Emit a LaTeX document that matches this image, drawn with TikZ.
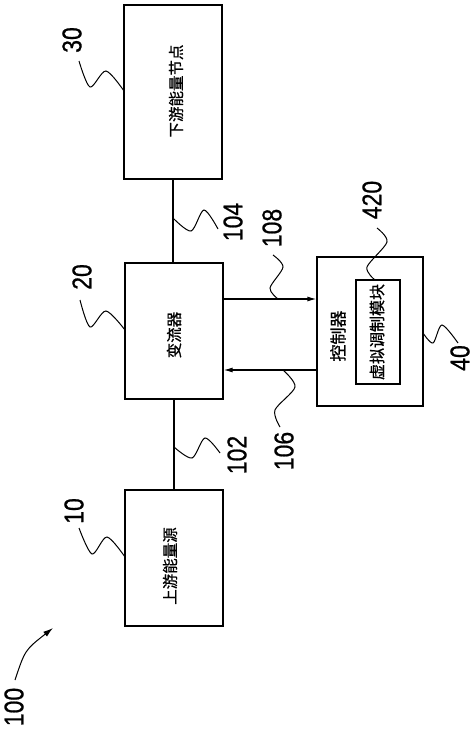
\documentclass[tikz,border=0pt]{standalone}
\usepackage{fontspec}
\newfontfamily\cjk[FakeBold=0.8]{Noto Sans CJK SC}
\newfontfamily\dig[FakeBold=0.8]{Liberation Sans}
\usetikzlibrary{arrows.meta}
\tikzset{
  box/.style={draw, line width=1.2pt, inner sep=0pt},
  wire/.style={line width=1.2pt},
  arr/.style={line width=1.2pt, -{Latex[length=9pt,width=5pt]}},
  lead/.style={line width=1pt},
  num/.style={font=\dig\fontsize{23}{23}\selectfont, inner sep=0pt},
  cn/.style={font=\cjk\fontsize{15.5}{15.5}\selectfont, inner sep=0pt}
}
\newcommand{\rt}[1]{\rotatebox{90}{#1}}
\newcommand{\rn}[1]{\rotatebox{90}{\scalebox{1}[1.18]{#1}}}
\begin{document}
\begin{tikzpicture}[x=1pt,y=-1pt]
\useasboundingbox (0,0) rectangle (474,731);
% boxes
\node[box, minimum width=98pt, minimum height=174pt] (n30) at (173,92) {};
\node[box, minimum width=98pt, minimum height=136pt] (n20) at (174,331) {};
\node[box, minimum width=98pt, minimum height=136pt] (n10) at (174,558) {};
\node[box, minimum width=106pt, minimum height=149pt] (n40) at (370,331.5) {};
\node[box, minimum width=44pt, minimum height=104pt] (n420) at (378,332) {};
% box texts
\node[cn] (t30) at (176,91) {\rt{下游能量节点}};
\node[cn] (t20) at (174,335) {\rt{变流器}};
\node[cn] (t10) at (170,566) {\rt{上游能量源}};
\node[cn, font=\cjk\fontsize{17}{17}\selectfont] (t40) at (338,336) {\rt{控制器}};
\node[cn, font=\cjk\fontsize{16}{16}\selectfont] (t420) at (377,332) {\rt{虚拟调制模块}};
% connections
\draw[wire] (n30.south) -- (n30.south |- n20.north);
\draw[wire] (n20.south) -- (n20.south |- n10.north);
\draw[arr] (n20.east |- 0,299) -- (n40.west |- 0,299);
\draw[arr] (n40.west |- 0,370) -- (n20.east |- 0,370);
% labels
\node[num] (l30) at (72,40) {\rn{30}};
\node[num] (l20) at (82,277) {\rn{20}};
\node[num] (l10) at (74,511) {\rn{10}};
\node[num] (l104) at (233,222) {\rn{104}};
\node[num] (l102) at (237,455) {\rn{102}};
\node[num] (l108) at (272,228) {\rn{108}};
\node[num] (l106) at (284,451) {\rn{106}};
\node[num] (l420) at (372,200) {\rn{420}};
\node[num] (l40) at (460,358) {\rn{40}};
\node[num] (l100) at (14,707) {\rn{100}};
% lead lines
\draw[lead] plot[smooth] coordinates {(79,61) (90,87) (106,71) (124,91)};
\draw[lead] plot[smooth] coordinates {(80,300) (90,327) (106,311) (125,330)};
\draw[lead] plot[smooth] coordinates {(79,528) (92,554) (107,537) (125,557)};
\draw[lead] plot[smooth] coordinates {(173,218) (191,231) (204,210) (218,229)};
\draw[lead] plot[smooth] coordinates {(174,447) (192,458) (205,438) (220,453)};
\draw[lead] plot[smooth] coordinates {(273,255) (283,267) (270,288) (278,299)};
\draw[lead] plot[smooth] coordinates {(283,370) (295,387) (275,410) (280,427)};
\draw[lead] plot[smooth] coordinates {(377,228) (387,242) (367,267) (375,280)};
\draw[lead] plot[smooth] coordinates {(423,333) (433,343) (442,325) (458,343)};
% 100 arrow
\coordinate (a100s) at (15,680);
\coordinate (a100e) at (53,628);
\draw[line width=1pt, -{Latex[length=10pt,width=6pt]}] (a100s) .. controls (25,650) .. (a100e);
\end{tikzpicture}
\end{document}
